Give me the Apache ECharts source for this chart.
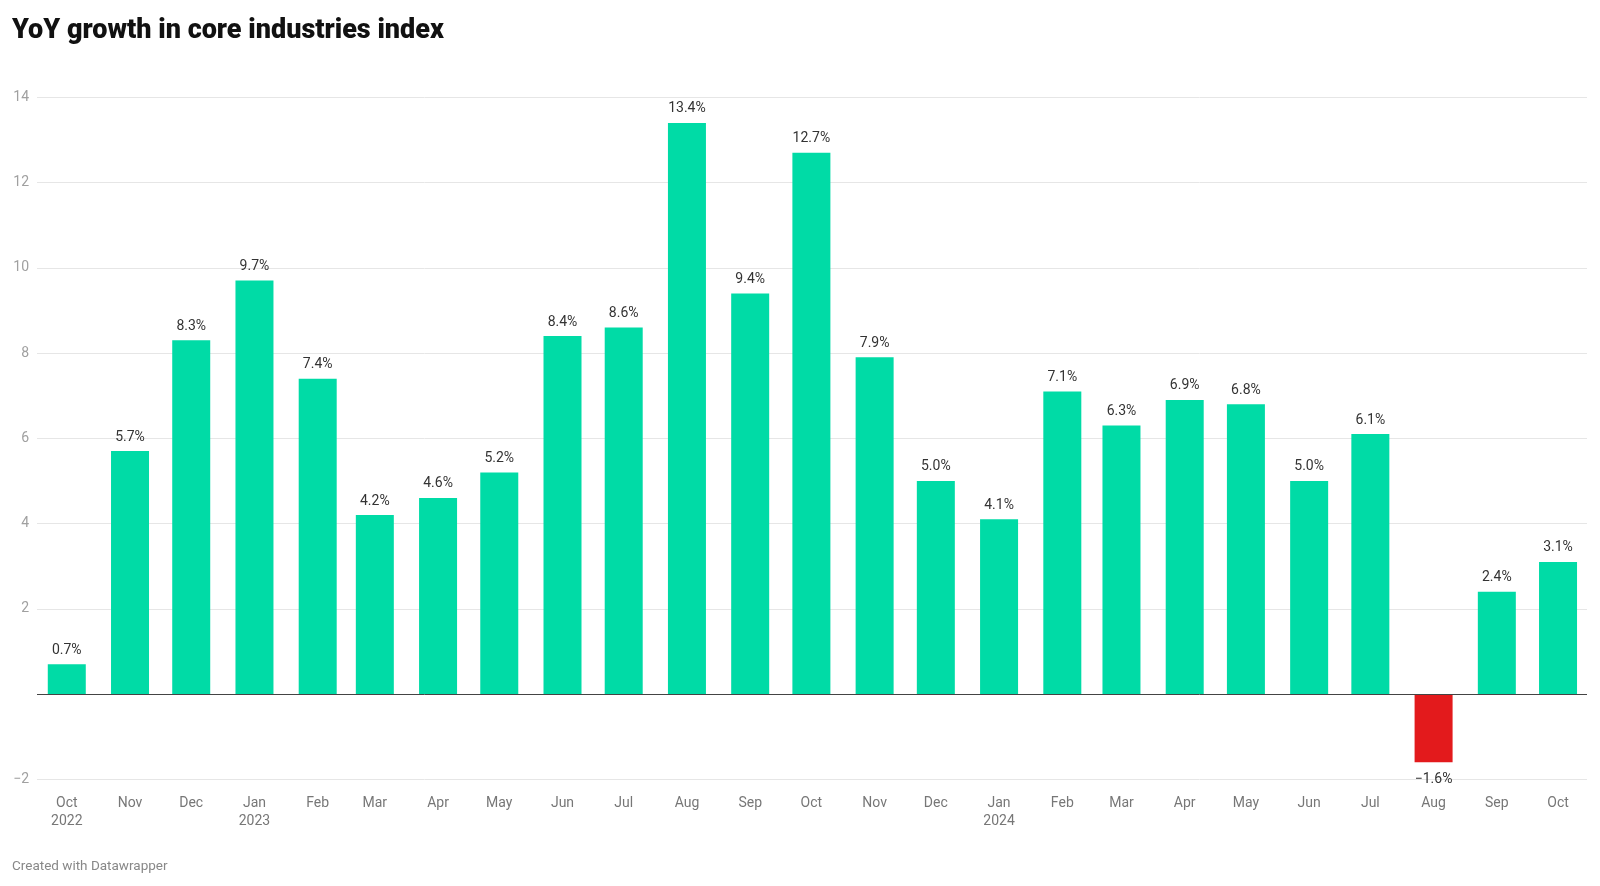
<!DOCTYPE html>
<html>
<head>
<meta charset="utf-8">
<script src="https://cdn.jsdelivr.net/npm/echarts@6/dist/echarts.min.js"></script>
<style>
html,body{margin:0;padding:0;background:#fff;}
#c{width:1600px;height:886px;}
</style>
</head>
<body>
<div id="c"></div>
<script>
const months = ['2022-10-01','2022-11-01','2022-12-01','2023-01-01','2023-02-01','2023-03-01','2023-04-01','2023-05-01','2023-06-01','2023-07-01','2023-08-01','2023-09-01','2023-10-01','2023-11-01','2023-12-01','2024-01-01','2024-02-01','2024-03-01','2024-04-01','2024-05-01','2024-06-01','2024-07-01','2024-08-01','2024-09-01','2024-10-01'];
const growth = [0.7,5.7,8.3,9.7,7.4,4.2,4.6,5.2,8.4,8.6,13.4,9.4,12.7,7.9,5.0,4.1,7.1,6.3,6.9,6.8,5.0,6.1,-1.6,2.4,3.1];
const yTicks = [-2,0,2,4,6,8,10,12,14];
const monthNames = ['Jan','Feb','Mar','Apr','May','Jun','Jul','Aug','Sep','Oct','Nov','Dec'];

// x positions as day numbers (time scale, in days since epoch)
const DAY = 86400000;
const days = months.map(m => { const p = m.split('-'); return Date.UTC(+p[0], +p[1]-1, +p[2]) / DAY; });
const xMin = days[0] - 14.6;
const xMax = days[days.length-1] + 14.2;

const fmtNum = v => (v < 0 ? '\u2212' : '') + Math.abs(v).toFixed(1);

const data = growth.map((v,i) => ({
  value: [days[i], v],
  itemStyle: { color: v < 0 ? '#e31a1c' : '#00dba6' },
  label: v < 0 ? { position: 'bottom', distance: 10 } : { position: 'top' }
}));

const chart = echarts.init(document.getElementById('c'), null, {renderer:'canvas'});
chart.setOption({
  animation: false,
  backgroundColor: '#fff',
  title: {
    text: 'YoY growth in core industries index',
    left: 12, top: 18, padding: 0,
    textStyle: { fontFamily: 'Roboto', fontWeight: 900, fontSize: 27, color: '#111' }
  },
  graphic: [{
    type: 'text', left: 12, top: 860,
    style: { text: 'Created with Datawrapper', fontFamily: 'Roboto', fontSize: 13.5, fill: '#888' }
  }],
  grid: { left: 37, right: 13, top: 97.3, bottom: 106.7, containLabel: false },
  xAxis: {
    type: 'value',
    min: xMin, max: xMax,
    axisLine: { show: false },
    axisTick: { show: false },
    splitLine: { show: false },
    axisLabel: {
      customValues: days,
      showMinLabel: true, showMaxLabel: true,
      hideOverlap: false,
      margin: 15,
      fontFamily: 'Roboto', fontSize: 14, color: '#777', lineHeight: 18,
      formatter: function (val) {
        const d = new Date(val * DAY);
        const m = d.getUTCMonth();
        const name = monthNames[m];
        const idx = days.indexOf(val);
        return (m === 0 || idx === 0) ? name + '\n' + d.getUTCFullYear() : name;
      }
    }
  },
  yAxis: {
    type: 'value',
    min: -2, max: 14, interval: 2,
    axisLine: { show: false },
    axisTick: { show: false },
    splitLine: { show: true, lineStyle: { color: '#e6e6e6', width: 1 } },
    axisLabel: {
      margin: 8,
      padding: [4, 0, 0, 0],
      fontFamily: 'Roboto', fontSize: 14, color: '#a0a0a0',
      formatter: v => v === 0 ? '' : (yTicks.indexOf(v) >= 0 ? fmtNum(v).replace('.0','') : '')
    }
  },
  series: [{
    type: 'bar',
    barWidth: 38,
    data: data,
    label: {
      show: true,
      distance: 7,
      fontFamily: 'Roboto', fontSize: 14, color: '#333',
      formatter: p => fmtNum(p.value[1]) + '%'
    },
    markLine: {
      silent: true,
      symbol: 'none',
      label: { show: false },
      lineStyle: { color: '#444', width: 1, type: 'solid' },
      data: [{ yAxis: 0 }],
      z: 5
    }
  }]
});
</script>
</body>
</html>
